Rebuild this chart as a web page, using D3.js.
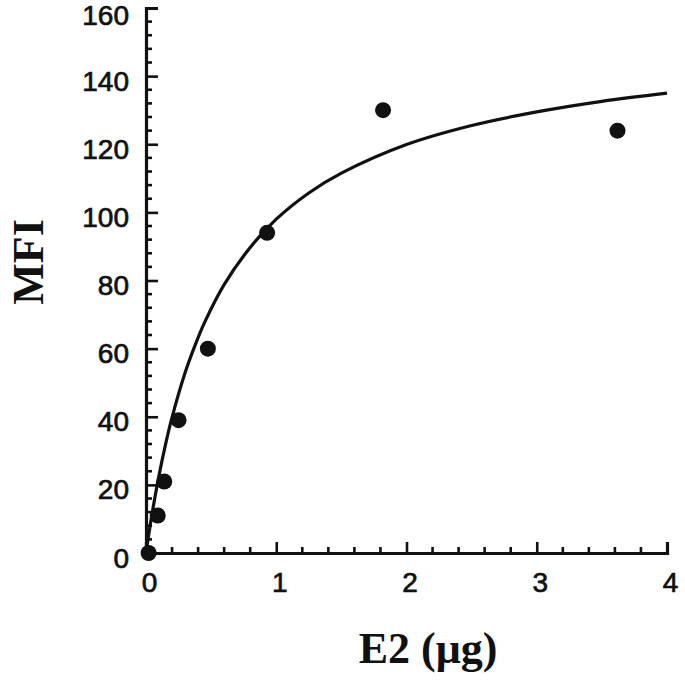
<!DOCTYPE html>
<html>
<head>
<meta charset="utf-8">
<script src="https://cdn.jsdelivr.net/npm/d3@7"></script>
<style>
  body { margin: 0; background: #fff; }
  svg { display: block; }
</style>
</head>
<body>
<div id="chart"></div>
<script>
// measured points (E2 dose vs MFI)
const doseX = [0.02, 0.09, 0.14, 0.25, 0.475, 0.93, 1.82, 3.62];
const mfiY = [0, 11, 21, 39, 60, 94, 130, 124];

// fitted curve
const curveX = [0, 0.05, 0.1, 0.15, 0.2, 0.3, 0.375, 0.45, 0.6, 0.8, 1.0, 1.25, 1.5, 2.0, 2.5, 3.0, 3.5, 4.0];
const curveY = [0, 12.3, 22.8, 31.9, 39.8, 52.9, 60.8, 67.7, 78.8, 89.7, 98.0, 105.7, 111.5, 119.9, 125.5, 129.5, 132.6, 135];

const xTicks = [0, 1, 2, 3, 4];
const yTicks = [0, 20, 40, 60, 80, 100, 120, 140, 160];

const width = 685, height = 682;
const svg = d3.select("#chart").append("svg")
    .attr("width", width)
    .attr("height", height);

const x = d3.scaleLinear().domain([0, 4]).range([146, 667]);
const y = d3.scaleLinear().domain([0, 160]).range([553, 8]);

const ink = "#111";

// minor ticks
const xMinor = d3.range(0, 4.0001, 0.2).filter(v => Math.abs(v - Math.round(v)) > 1e-6);
const yMinor = d3.range(0, 160.0001, 4).filter(v => v % 20 !== 0);

// x axis
const xAxis = svg.append("g").attr("transform", `translate(0, ${y(0)})`);
xAxis.call(d3.axisBottom(x).tickValues(xTicks).tickSize(-11).tickPadding(29).tickFormat(d3.format("d")));
xAxis.selectAll(".minor").data(xMinor).enter()
    .append("line").attr("class", "minor")
    .attr("x1", d => x(d)).attr("x2", d => x(d))
    .attr("y1", 0).attr("y2", -6);

// y axis
const yAxis = svg.append("g").attr("transform", `translate(${x(0)}, 0)`);
yAxis.call(d3.axisLeft(y).tickValues(yTicks).tickSize(-12).tickPadding(17).tickFormat(d3.format("d")));
yAxis.selectAll(".minor").data(yMinor).enter()
    .append("line").attr("class", "minor")
    .attr("x1", 0).attr("x2", 6)
    .attr("y1", d => y(d)).attr("y2", d => y(d));

[xAxis, yAxis].forEach(g => {
    g.select(".domain").attr("stroke", ink).attr("stroke-width", 3.2);
    g.selectAll("line").attr("stroke", ink).attr("stroke-width", 2.6);
    g.selectAll("text")
        .attr("fill", ink)
        .attr("stroke", ink)
        .attr("stroke-width", 0.7)
        .attr("font-family", "Liberation Sans, Arial, sans-serif")
        .attr("font-size", 28);
});
xAxis.selectAll(".tick text").attr("dy", "0.35em").attr("dx", 3);
// keep the top label inside the frame
yAxis.selectAll(".tick text").attr("dy", d => d === 160 ? "0.6em" : "0.5em");

// fitted curve
const line = d3.line()
    .x((d, i) => x(curveX[i]))
    .y(d => y(d))
    .curve(d3.curveCatmullRom);
svg.append("path")
    .datum(curveY)
    .attr("d", line)
    .attr("fill", "none")
    .attr("stroke", ink)
    .attr("stroke-width", 3.2);

// data points
svg.selectAll(".pt").data(mfiY).enter()
    .append("circle").attr("class", "pt")
    .attr("cx", (d, i) => x(doseX[i]))
    .attr("cy", d => y(d))
    .attr("r", 8)
    .attr("fill", ink);

// axis titles
svg.append("text")
    .attr("x", 428).attr("y", 663)
    .attr("text-anchor", "middle")
    .attr("font-family", "Liberation Serif, Times New Roman, serif")
    .attr("font-weight", "bold")
    .attr("font-size", 44)
    .attr("fill", ink)
    .text("E2 (μg)");

svg.append("text")
    .attr("transform", "translate(43, 262) rotate(-90)")
    .attr("text-anchor", "middle")
    .attr("font-family", "Liberation Serif, Times New Roman, serif")
    .attr("font-weight", "bold")
    .attr("font-size", 44)
    .attr("fill", ink)
    .text("MFI");
</script>
</body>
</html>
